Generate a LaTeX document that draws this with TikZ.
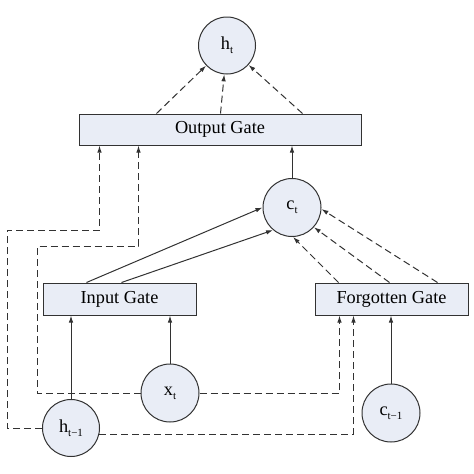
\documentclass[tikz,border=0pt]{standalone}
\usepackage{fontspec}
\setmainfont{Liberation Serif}
\usetikzlibrary{calc,arrows.meta}
\definecolor{cellfill}{RGB}{233,237,246}
\definecolor{cellline}{RGB}{50,50,50}
\newcommand{\lowsub}[1]{\raisebox{-0.45ex}{\fontsize{11}{12}\selectfont #1}}

\begin{document}
\begin{tikzpicture}[x=1pt,y=1pt,yscale=-1,xscale=1,
  font=\fontsize{18.3}{21}\selectfont,
  unit/.style={circle,draw=cellline,fill=cellfill,line width=1pt,minimum size=57pt,inner sep=0pt},
  gate/.style={rectangle,draw=cellline,fill=cellfill,line width=1pt,minimum width=153pt,minimum height=32pt,inner sep=0pt},
  flow/.style={draw=cellline,line width=1pt,-{Latex[length=7pt,width=4.5pt]}},
  gated/.style={flow,dash pattern=on 7pt off 4pt}]
\useasboundingbox (0,0) rectangle (474,474);

%Shape: Circles [id:ht ct xt hm cm]
\node[unit] (ht) at (227,45.5) {h\lowsub{t}};
\node[unit,minimum size=58pt] (ct) at (292,207.5) {c\lowsub{t}};
\node[unit,minimum size=58pt] (xt) at (170,393) {x\lowsub{t}};
\node[unit] (hm) at (71,428) {h\lowsub{t−1}};
\node[unit,minimum size=58pt] (cm) at (391,413) {c\lowsub{t−1}};

%Shape: Gates [id:og ig fg]
\node[gate,minimum width=282pt,minimum height=31pt] (og) at (220,129.5) {Output Gate};
\node[gate] (ig) at (119.5,299) {Input Gate};
\node[gate] (fg) at (391.5,299) {Forgotten Gate};

% corners of the dashed loops
\coordinate (hl) at (7,230);
\coordinate (xl) at (37,246);

%Straight Lines: output gate to h_t
\draw[gated] ([xshift=78pt]og.north west) -- (ht);
\draw[gated] ([xshift=142pt]og.north west) -- (ht);
\draw[gated] ([xshift=224pt]og.north west) -- (ht);
\draw[flow] (ct) -- (ct |- og.south);

%Straight Lines: gates to c_t
\draw[flow] ([xshift=44pt]ig.north west) -- (ct.west);
\draw[flow] ([xshift=79pt]ig.north west) -- (ct.230);
\draw[gated] ([xshift=24pt]fg.north west) -- (ct.272);
\draw[gated] ([xshift=75pt]fg.north west) -- (ct.-42);
\draw[gated] ([xshift=123pt]fg.north west) -- (ct.-3);

%Straight Lines: inputs to gates
\draw[flow] (hm) -- (hm |- ig.south);
\draw[flow] (xt) -- (xt |- ig.south);
\draw[flow] (cm) -- (cm |- fg.south);

%Dashed loops
\draw[gated] (hm.west) -| (hl) -| ([xshift=21pt]og.south west);
\draw[gated] (xt.west) -| (xl) -| ([xshift=60pt]og.south west);
\draw[gated] (xt.east) -| ([xshift=25pt]fg.south west);
\draw[gated] (hm.-12) -| ([xshift=39pt]fg.south west);

\end{tikzpicture}
\end{document}
